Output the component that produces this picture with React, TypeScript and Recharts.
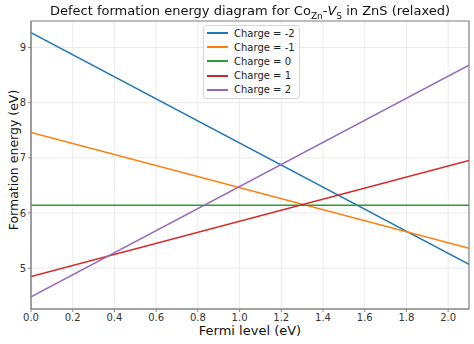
import React from "react";
import {
  CartesianGrid,
  Line,
  LineChart,
  ReferenceArea,
  XAxis,
  YAxis,
} from "recharts";

// Fermi level endpoints (eV) and formation energies for each charge state
const fermiLevels = [0, 2.1];
const chargeStates = [-2, -1, 0, 1, 2];
const energyQm2 = [9.27, 5.07];
const energyQm1 = [7.46, 5.36];
const energyQ0 = [6.14, 6.14];
const energyQp1 = [4.85, 6.95];
const energyQp2 = [4.48, 8.68];
const xTicks = [0, 0.2, 0.4, 0.6, 0.8, 1.0, 1.2, 1.4, 1.6, 1.8, 2.0];
const yTicks = [5, 6, 7, 8, 9];

const COLORS = ["#1f77b4", "#ff7f0e", "#2ca02c", "#d62728", "#9467bd"];
const FONT = "'DejaVu Sans', sans-serif";
const X_DOMAIN: [number, number] = [0, 2.1];
const Y_DOMAIN: [number, number] = [4.26, 9.48];

const seriesValues = [energyQm2, energyQm1, energyQ0, energyQp1, energyQp2];
const data = fermiLevels.map((x, i) => {
  const row: Record<string, number> = { x };
  chargeStates.forEach((q, s) => {
    row[`q${q}`] = seriesValues[s][i];
  });
  return row;
});

function LegendBox() {
  return (
    <div
      style={{
        position: "absolute",
        left: 203,
        top: 25,
        background: "rgba(255,255,255,0.85)",
        border: "1px solid #d6d6d6",
        borderRadius: 3,
        padding: "0px 4px 1px 3px",
        fontSize: 10,
        color: "#222",
        whiteSpace: "nowrap",
      }}
    >
      {chargeStates.map((q, i) => (
        <div key={q} style={{ display: "flex", alignItems: "center", height: 14.2 }}>
          <span
            style={{
              display: "inline-block",
              flexShrink: 0,
              width: 21,
              height: 2,
              background: COLORS[i],
              marginRight: 6,
            }}
          />
          <span>Charge = {q}</span>
        </div>
      ))}
    </div>
  );
}

export default function App() {
  return (
    <div
      style={{
        position: "fixed",
        left: 0,
        top: 0,
        width: 474,
        height: 344,
        background: "#fff",
        fontFamily: FONT,
      }}
    >
      <LineChart
        width={474}
        height={344}
        data={data}
        margin={{ top: 21, right: 5, bottom: 0, left: 0 }}
      >
        <CartesianGrid stroke="#ebebeb" />
        <XAxis
          dataKey="x"
          type="number"
          domain={X_DOMAIN}
          ticks={xTicks}
          allowDataOverflow
          tickFormatter={(v: number) => v.toFixed(1)}
          tick={{ fontSize: 10, fill: "#333", fontFamily: FONT }}
          stroke="#888"
          tickSize={3}
          height={35}
        />
        <YAxis
          type="number"
          domain={Y_DOMAIN}
          ticks={yTicks}
          allowDataOverflow
          tick={{ fontSize: 10, fill: "#333", fontFamily: FONT }}
          stroke="#888"
          tickSize={3}
          width={31}
        />
        <ReferenceArea
          x1={X_DOMAIN[0]}
          x2={X_DOMAIN[1]}
          y1={Y_DOMAIN[0]}
          y2={Y_DOMAIN[1]}
          fill="none"
          stroke="#888"
          strokeWidth={1.2}
        />
        {chargeStates.map((q, i) => (
          <Line
            key={q}
            dataKey={`q${q}`}
            stroke={COLORS[i]}
            strokeWidth={1.5}
            dot={false}
            isAnimationActive={false}
          />
        ))}
      </LineChart>
      <LegendBox />
      <div
        style={{
          position: "absolute",
          left: 0,
          width: 500,
          top: 3,
          textAlign: "center",
          fontSize: 13,
          color: "#111",
          whiteSpace: "nowrap",
        }}
      >
        Defect formation energy diagram for Co<sub style={{ fontSize: 9 }}>Zn</sub>-
        <i>V</i>
        <sub style={{ fontSize: 9 }}>S</sub> in ZnS (relaxed)
      </div>
      <div
        style={{
          position: "absolute",
          left: 31,
          width: 438,
          top: 323,
          textAlign: "center",
          fontSize: 13,
          color: "#111",
        }}
      >
        Fermi level (eV)
      </div>
      <div
        style={{
          position: "absolute",
          left: 13,
          top: 160,
          transform: "translate(-50%, -50%) rotate(-90deg)",
          fontSize: 12.5,
          color: "#111",
          whiteSpace: "nowrap",
        }}
      >
        Formation energy (eV)
      </div>
    </div>
  );
}
